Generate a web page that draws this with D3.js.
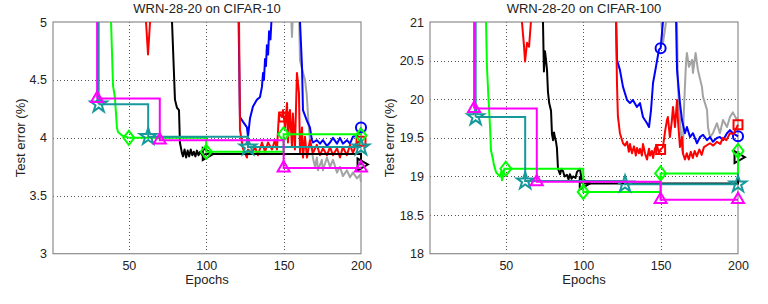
<!DOCTYPE html>
<html>
<head>
<meta charset="utf-8">
<script src="https://cdn.jsdelivr.net/npm/d3@7"></script>
<style>
	body { margin: 0; background: #fff; }
	svg { font-family: "Liberation Sans", Arial, sans-serif; }
	.grid line { stroke: #555; stroke-dasharray: 1,2.5; shape-rendering: crispEdges; }
	.axis text { font-size: 12.5px; fill: #222; }
	.title, .label { font-size: 13px; fill: #222; }
</style>
</head>
<body>
<div id="chart"></div>
<script>

// ---- ticks ----
const epochTicks = [50, 100, 150, 200];
const c10Ticks = [3, 3.5, 4, 4.5, 5];
const c100Ticks = [18, 18.5, 19, 19.5, 20, 20.5, 21];

// ---- CIFAR-10 : [epoch, test error] ----
const c10Gray = [[153.8, 5.4], [155.4, 4.87], [157, 5.4], [159.5, 5.4], [160.6, 4.67], [161.6, 4.61], [163.8, 4.5], [164.9, 4.38],
	[166, 4.15], [167, 3.98], [168.1, 3.9], [169.2, 3.81], [170.3, 3.75], [171.5, 3.83], [172.2, 3.72], [174.7, 3.81],
	[175.4, 3.72], [178, 3.83], [180, 3.75], [181.9, 3.81], [184.5, 3.7], [186.4, 3.75], [188.3, 3.67], [190.9, 3.72],
	[192.9, 3.66], [194.8, 3.7], [197.4, 3.65], [199.3, 3.68], [200, 3.62]];
const c10Blue = [[120.5, 5.4], [121.8, 4.18], [123.7, 4.14], [126.3, 4.09], [127, 4.01], [128.3, 4.17], [130.2, 4.27],
	[132.8, 4.33], [134.7, 4.35], [136, 4.44], [136.7, 4.56], [137.3, 4.5], [138, 4.68], [138.6, 4.62], [139.2, 4.8],
	[140, 4.72], [140.6, 4.92], [141.5, 4.85], [142.3, 5.05], [143, 5.4], [159.5, 5.4], [160.6, 5.0], [161.9, 4.61],
	[162.5, 4.24], [165, 4.15], [167, 4.09], [168.3, 3.98], [169, 3.96], [171.5, 3.98], [173.5, 3.95], [175.4, 3.98],
	[178, 3.93], [180, 3.96], [181.9, 4.0], [184.5, 3.95], [186.4, 4.0], [188.3, 3.95], [190.9, 3.98], [192.9, 3.95],
	[194.8, 4.01], [197.4, 4.02], [199.3, 4.05], [200, 4.09]];
const c10BlueMarks = [[200, 4.09]];
const c10Red = [[60.5, 5.4], [61.1, 5.0], [62.4, 4.72], [63.7, 5.0], [64.3, 5.4], [120.6, 5.4], [121.2, 5.0], [121.8, 4.07],
	[123.1, 3.96], [123.7, 3.91], [126.3, 3.83], [127, 3.9], [129.6, 3.87], [131.5, 3.92], [133.4, 3.85], [136, 3.96],
	[138, 3.88], [139.9, 3.96], [142.5, 3.9], [144.4, 3.98], [145.7, 3.9], [147, 4.21], [149, 4.18], [149.6, 4.24],
	[150.9, 4.09], [152.2, 4.3], [152.8, 3.96], [154.1, 4.24], [155.4, 3.92], [156, 4.21], [157.3, 3.9], [158.6, 4.56],
	[159.9, 4.39], [160.6, 3.87], [161.9, 4.09], [162.5, 3.83], [163.8, 4.01], [165.1, 3.83], [167, 3.98], [169, 3.87],
	[171.5, 3.94], [173.5, 3.85], [175.4, 3.91], [178, 3.85], [180, 3.92], [181.9, 3.85], [184.5, 3.91], [186.4, 3.83],
	[188.3, 3.92], [190.9, 3.85], [192.9, 3.94], [194.8, 3.87], [197.4, 3.96], [200, 3.97]];
const c10RedMarks = [[150, 4.18], [200, 3.97]];
const c10Black = [[77.3, 5.4], [77.9, 5.0], [79.8, 4.33], [81.1, 4.26], [82.4, 4.24], [83, 3.96], [84.3, 3.87], [85, 3.84],
	[86, 3.9], [87, 3.83], [88, 3.89], [89, 3.84], [90, 3.9], [91, 3.85], [92, 3.88], [93, 3.84], [94, 3.89], [95, 3.85],
	[96, 3.88], [97.5, 3.85], [100, 3.86]];
const c10BlackMarks = [[100, 3.86], [200, 3.77]];
const c10Green = [[37.8, 5.4], [38.5, 5.0], [39.8, 4.45], [41, 4.35], [42.3, 4.09], [43, 4.05], [45.6, 4.02], [50, 4.0]];
const c10GreenMarks = [[50, 4.0], [100, 3.88], [150, 4.03], [200, 4.02]];
const c10Teal = [[30.5, 5.4], [30.5, 4.29]];
const c10TealMarks = [[30.5, 4.29], [62.5, 4.01], [127, 3.92], [200, 3.92]];
const c10Magenta = [[29.5, 5.4], [29.5, 4.34]];
const c10MagentaMarks = [[29.5, 4.34], [70, 3.98], [150, 3.74], [200, 3.74]];

// ---- CIFAR-100 ----
const c100Gray = [[149.5, 21.3], [150.5, 21.0], [151.5, 20.72], [153.5, 21.0], [154.5, 21.3], [159.5, 21.5], [160.6, 21.0],
	[161.2, 20.16], [162.5, 19.73], [163.8, 19.38], [164.4, 19.3], [164.8, 19.73], [165.7, 20.16], [166.4, 20.47],
	[167, 20.6], [168.3, 20.42], [170.3, 20.51], [170.9, 20.34], [172.6, 20.6], [174.1, 20.38], [176.7, 20.16],
	[177.4, 20.03], [180, 19.86], [180.6, 19.64], [181.9, 19.51], [183.8, 19.56], [186.4, 19.69], [188.3, 19.56],
	[190.3, 19.73], [192.9, 19.64], [194.8, 19.77], [196.7, 19.83], [199.3, 19.73], [200, 19.77]];
const c100Blue = [[120.7, 21.5], [121.3, 21.0], [121.8, 20.51], [123.7, 20.38], [125.7, 20.16], [128.3, 19.99], [130.2, 19.95],
	[132.1, 19.99], [134.7, 19.9], [136.7, 19.95], [138.6, 19.77], [141.2, 19.69], [142.5, 19.64], [143.8, 19.86],
	[145.1, 20.21], [147, 20.42], [148.9, 20.64], [150, 20.66], [151.5, 21.0], [152, 21.5], [159.3, 21.5], [160, 21.0],
	[160.6, 20.38], [162.5, 19.95], [163.8, 19.73], [165.7, 19.56], [167, 19.64], [169, 19.51], [170.9, 19.56],
	[173.5, 19.43], [175.4, 19.51], [177.4, 19.54], [180, 19.47], [181.9, 19.51], [183.8, 19.45], [186.4, 19.5],
	[188.3, 19.51], [190.3, 19.47], [192.9, 19.56], [194.8, 19.6], [196.7, 19.56], [200, 19.52]];
const c100BlueMarks = [[150, 20.66], [200, 19.52]];
const c100Red = [[59.8, 21.5], [60.4, 21.0], [61.7, 20.7], [62.4, 20.49], [63.7, 20.73], [65, 20.68], [66.2, 21.0], [66.8, 21.5],
	[120.6, 21.5], [121.2, 21.0], [121.8, 20.21], [122.4, 19.78], [123.7, 19.56], [125.7, 19.43], [127, 19.4], [128.3, 19.45],
	[129.5, 19.32], [130.2, 19.42], [131.5, 19.3], [132.8, 19.39], [134, 19.27], [134.7, 19.37], [136, 19.3], [136.7, 19.36],
	[137.9, 19.27], [138.6, 19.42], [139.9, 19.3], [141.2, 19.22], [142.5, 19.36], [143.2, 19.27], [144.4, 19.33],
	[145.1, 19.24], [146.3, 19.36], [147.6, 19.41], [148.9, 19.3], [150, 19.35], [151.5, 19.38], [153, 19.6], [154.1, 19.73],
	[154.7, 19.77], [156, 19.51], [157.3, 19.73], [158, 19.9], [159.3, 19.64], [160.6, 19.99], [161.2, 19.73], [162.5, 19.38],
	[163.8, 19.51], [164.4, 19.3], [165.7, 19.22], [166.9, 19.3], [168.2, 19.22], [169.5, 19.32], [170.8, 19.24], [172, 19.33],
	[173.4, 19.26], [175, 19.35], [176.5, 19.28], [178, 19.38], [181.9, 19.43], [184, 19.4], [186.4, 19.45], [188.5, 19.42],
	[190.3, 19.5], [192.5, 19.47], [194.8, 19.56], [197, 19.55], [199.3, 19.64], [200, 19.67]];
const c100RedMarks = [[150, 19.35], [200, 19.67]];
const c100Black = [[73.5, 21.5], [74, 21.0], [74.6, 20.36], [75.3, 20.62], [75.9, 20.52], [76.6, 20.38], [77.2, 20.1],
	[78, 19.95], [79.2, 19.85], [79.8, 19.55], [80.5, 19.47], [81.1, 19.57], [81.8, 19.5], [82.4, 19.45], [83, 19.37],
	[83.7, 19.1], [85, 19.03], [86, 19.1], [86.9, 19.07], [88, 19.0], [89.5, 19.02], [90.5, 18.96], [91.4, 19.03],
	[92.5, 18.97], [93.4, 19.0], [95, 18.98], [96, 19.06], [97.9, 19.1], [99.2, 18.92], [100, 18.91]];
const c100BlackMarks = [[100, 18.91], [200, 19.25]];
const c100Green = [[36.5, 21.5], [37.2, 21.0], [37.8, 20.42], [38.8, 20.0], [39.8, 19.64], [40.4, 19.34], [41.7, 19.22],
	[42.3, 19.15], [43.6, 19.06], [44.3, 19.04], [46.2, 19.0], [47, 19.06], [47.5, 18.95], [48.2, 19.0], [49, 19.1], [50, 19.1]];
const c100GreenMarks = [[50, 19.1], [100, 18.8], [150, 19.04], [200, 19.33]];
const c100Teal = [[30.5, 21.5], [30.5, 19.77]];
const c100TealMarks = [[30.5, 19.77], [62.5, 18.94], [127, 18.9], [200, 18.9]];
const c100Magenta = [[29.5, 21.5], [29.5, 19.88]];
const c100MagentaMarks = [[29.5, 19.88], [70, 18.93], [150, 18.7], [200, 18.7]];


// line colours and marker shapes
const styles = {
	gray:    { color: "#a3a3a3", marker: null },
	blue:    { color: "#0000ff", marker: "circle" },
	red:     { color: "#ff0000", marker: "square" },
	black:   { color: "#000000", marker: "right" },
	green:   { color: "#00ff00", marker: "diamond" },
	teal:    { color: "#16999b", marker: "star" },
	magenta: { color: "#ff00ff", marker: "triangle" }
};

function markerPath(type) {
	if (type === "circle") return d3.symbol().type(d3.symbolCircle).size(80)();
	if (type === "square") return d3.symbol().type(d3.symbolSquare).size(80)();
	if (type === "star") return d3.symbol().type(d3.symbolStar).size(85)();
	if (type === "triangle" || type === "right") return d3.symbol().type(d3.symbolTriangle).size(62)();
	if (type === "diamond") return "M0,-7L5.5,0L0,7L-5.5,0Z";
	return null;
}


class ErrorVis {

	constructor(svg, id, left, title, yTicks, series) {
		this.svg = svg;
		this.id = id;
		this.left = left;
		this.title = title;
		this.yTicks = yTicks;
		this.series = series;

		this.initVis();
	}

	initVis() {
		let vis = this;

		vis.width = 308;
		vis.height = 231.7;

		vis.g = vis.svg.append("g")
			.attr("transform", "translate(" + vis.left + ",22)");

		vis.x = d3.scaleLinear()
			.domain([1, 200])
			.range([0, vis.width]);

		vis.y = d3.scaleLinear()
			.domain(d3.extent(vis.yTicks))
			.range([vis.height, 0]);

		// dotted grid
		vis.g.append("g")
			.attr("class", "grid")
			.attr("transform", "translate(0," + vis.height + ")")
			.call(d3.axisBottom(vis.x).tickValues(epochTicks.slice(0, -1)).tickSize(-vis.height).tickFormat(""))
			.call(g => g.select(".domain").remove());
		vis.g.append("g")
			.attr("class", "grid")
			.call(d3.axisLeft(vis.y).tickValues(vis.yTicks.slice(1, -1)).tickSize(-vis.width).tickFormat(""))
			.call(g => g.select(".domain").remove());

		// tick labels
		vis.g.append("g")
			.attr("class", "axis")
			.attr("transform", "translate(0," + vis.height + ")")
			.call(d3.axisBottom(vis.x).tickValues(epochTicks).tickSize(0).tickPadding(7).tickFormat(d => d))
			.call(g => g.select(".domain").remove());
		vis.g.append("g")
			.attr("class", "axis")
			.call(d3.axisLeft(vis.y).tickValues(vis.yTicks).tickSize(0).tickPadding(6).tickFormat(d => d))
			.call(g => g.select(".domain").remove());

		vis.g.append("rect")
			.attr("width", vis.width)
			.attr("height", vis.height)
			.attr("fill", "none")
			.attr("stroke", "#8c8c8c")
			.attr("stroke-width", 1.2);

		vis.g.append("text")
			.attr("class", "title")
			.attr("x", vis.width / 2)
			.attr("y", -9)
			.attr("text-anchor", "middle")
			.text(vis.title);

		vis.g.append("text")
			.attr("class", "label")
			.attr("x", vis.width / 2)
			.attr("y", vis.height + 30)
			.attr("text-anchor", "middle")
			.text("Epochs");

		let labelX = vis.yTicks[0] >= 10 ? -36 : -28;
		vis.g.append("text")
			.attr("class", "label")
			.attr("transform", "translate(" + labelX + "," + (vis.height / 2) + ") rotate(-90)")
			.attr("text-anchor", "middle")
			.text("Test error (%)");

		vis.g.append("clipPath")
			.attr("id", "clip-" + vis.id)
			.append("rect")
			.attr("x", -6)
			.attr("width", vis.width + 12)
			.attr("height", vis.height);

		vis.updateVis();
	}

	updateVis() {
		let vis = this;

		let line = d3.line()
			.x(d => vis.x(d[0]))
			.y(d => vis.y(d[1]));
		let stepLine = d3.line()
			.curve(d3.curveStepAfter)
			.x(d => vis.x(d[0]))
			.y(d => vis.y(d[1]));

		let yMin = vis.y.domain()[0], yMax = vis.y.domain()[1];

		vis.series.forEach(s => {
			let st = styles[s.style];
			let lines = vis.g.append("g").attr("clip-path", "url(#clip-" + vis.id + ")");

			lines.append("path")
				.attr("d", line(s.curve))
				.attr("fill", "none")
				.attr("stroke", st.color)
				.attr("stroke-width", 2)
				.attr("stroke-linejoin", "round");

			if (s.steps) {
				lines.append("path")
					.attr("d", stepLine(s.marks))
					.attr("fill", "none")
					.attr("stroke", st.color)
					.attr("stroke-width", 2);
			}

			if (s.marks) {
				vis.g.selectAll(".m-" + s.style)
					.data(s.marks.filter(d => d[1] >= yMin && d[1] <= yMax))
					.enter()
					.append("path")
					.attr("class", "m-" + s.style)
					.attr("d", markerPath(st.marker))
					.attr("transform", d => "translate(" + vis.x(d[0]) + "," + vis.y(d[1]) + ")" + (st.marker === "right" ? " rotate(90)" : ""))
					.attr("fill", "none")
					.attr("stroke", st.color)
					.attr("stroke-width", 2);
			}
		});
	}
}


let svg = d3.select("#chart").append("svg")
	.attr("width", 768)
	.attr("height", 304);

new ErrorVis(svg, "c10", 53, "WRN-28-20 on CIFAR-10", c10Ticks, [
	{ style: "gray", curve: c10Gray },
	{ style: "blue", curve: c10Blue, marks: c10BlueMarks },
	{ style: "red", curve: c10Red, marks: c10RedMarks },
	{ style: "black", curve: c10Black, marks: c10BlackMarks, steps: true },
	{ style: "green", curve: c10Green, marks: c10GreenMarks, steps: true },
	{ style: "teal", curve: c10Teal, marks: c10TealMarks, steps: true },
	{ style: "magenta", curve: c10Magenta, marks: c10MagentaMarks, steps: true }
]);

new ErrorVis(svg, "c100", 430, "WRN-28-20 on CIFAR-100", c100Ticks, [
	{ style: "gray", curve: c100Gray },
	{ style: "blue", curve: c100Blue, marks: c100BlueMarks },
	{ style: "red", curve: c100Red, marks: c100RedMarks },
	{ style: "black", curve: c100Black, marks: c100BlackMarks, steps: true },
	{ style: "green", curve: c100Green, marks: c100GreenMarks, steps: true },
	{ style: "teal", curve: c100Teal, marks: c100TealMarks, steps: true },
	{ style: "magenta", curve: c100Magenta, marks: c100MagentaMarks, steps: true }
]);

</script>
</body>
</html>
